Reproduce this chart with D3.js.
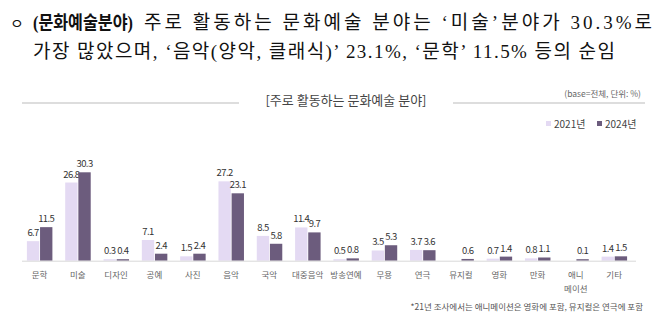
<!DOCTYPE html>
<html><head><meta charset="utf-8">
<script src="https://cdn.jsdelivr.net/npm/d3@7"></script>
<style>body{margin:0;background:#fff}svg{display:block}</style>
</head><body><svg id="c" width="670" height="322"></svg>
<script>
const categories = ["문학","미술","디자인","공예","사진","음악","국악","대중음악","방송연예","무용","연극","뮤지컬","영화","만화","애니메이션","기타"];
const series = ["2021년","2024년"];
const values2021 = [6.7,26.8,0.3,7.1,1.5,27.2,8.5,11.4,0.5,3.5,3.7,null,0.7,0.8,null,1.4];
const values2024 = [11.5,30.3,0.4,2.4,2.4,23.1,5.8,9.7,0.8,5.3,3.6,0.6,1.4,1.1,0.1,1.5];
const titleLine1Bold = "(문화예술분야)";
const titleLine1 = "주로 활동하는 문화예술 분야는 ‘미술’분야가 30.3%로";
const titleLine2 = "가장 많았으며, ‘음악(양악, 클래식)’ 23.1%, ‘문학’ 11.5% 등의 순임";
const chartTitle = "[주로 활동하는 문화예술 분야]";
const baseNote = "(base=전체, 단위: %)";
const footnote = "*21년 조사에서는 애니메이션은 영화에 포함, 뮤지컬은 연극에 포함";

const colors = ["#e4daf3","#6c5c7d"];
const svg = d3.select("#c");
const serif = "'Liberation Serif','Noto Sans CJK KR',serif";
const sans = "'Noto Sans CJK KR','Noto Sans',sans-serif";

// heading text
svg.append("text").attr("x",10).attr("y",29).attr("font-family",sans).attr("font-size",15).attr("fill","#111").text("ㅇ");
svg.append("text").attr("x",33).attr("y",29).attr("font-family",serif).attr("font-size",18.5).attr("font-weight","bold").attr("fill","#111")
  .attr("textLength",100).attr("lengthAdjust","spacingAndGlyphs").text(titleLine1Bold);
svg.append("text").attr("x",144).attr("y",29).attr("font-family",serif).attr("font-size",19).attr("fill","#111")
  .attr("textLength",508).attr("lengthAdjust","spacing").text(titleLine1);
svg.append("text").attr("x",33).attr("y",58).attr("font-family",serif).attr("font-size",19).attr("fill","#111")
  .attr("textLength",582).attr("lengthAdjust","spacing").text(titleLine2);

// chart header
svg.append("line").attr("x1",22).attr("x2",239).attr("y1",103).attr("y2",103).attr("stroke","#bbb").attr("stroke-width",1);
svg.append("line").attr("x1",453).attr("x2",645).attr("y1",103).attr("y2",103).attr("stroke","#bbb").attr("stroke-width",1);
svg.append("text").attr("x",346).attr("y",105).attr("text-anchor","middle").attr("font-family",sans).attr("font-size",13).attr("fill","#444").text(chartTitle);
svg.append("text").attr("x",641).attr("y",97).attr("text-anchor","end").attr("font-family",sans).attr("font-size",8.5).attr("fill","#666").text(baseNote);

// legend
const legX = [546, 597];
series.forEach((s,i)=>{
  svg.append("rect").attr("x",legX[i]).attr("y",121).attr("width",5).attr("height",5).attr("fill",colors[i]);
  svg.append("text").attr("x",legX[i]+8).attr("y",127.5).attr("font-family",sans).attr("font-size",10).attr("fill","#444").text(s);
});

// scales
const baseY = 260.7;
const x0 = d3.scaleBand().domain(categories).range([20.3, 633.3]).padding(0);
const x1 = d3.scaleBand().domain(series).range([6.6, 32.1]).paddingInner(0.06);
const y = d3.scaleLinear().domain([0, 30.3]).range([baseY, 172.3]);

const data = categories.map((c,i)=>({cat:c, vals:[values2021[i], values2024[i]]}));

const g = svg.append("g");
data.forEach(d=>{
  d.vals.forEach((v,j)=>{
    if(v==null) return;
    const xx = x0(d.cat) + x1(series[j]);
    const h = Math.max(baseY - y(v), 1.5);
    g.append("rect").attr("x",xx).attr("y",baseY-h).attr("width",x1.bandwidth()).attr("height",h).attr("fill",colors[j]);
    g.append("text").attr("x",xx + x1.bandwidth()/2).attr("y",baseY-h-5).attr("text-anchor","middle")
      .attr("font-family",sans).attr("font-size",9.5).attr("fill","#333").attr("letter-spacing",-0.6).text(v.toFixed(1));
  });
});

// baseline
svg.append("line").attr("x1",22).attr("x2",636).attr("y1",baseY+0.5).attr("y2",baseY+0.5).attr("stroke","#d8d8d8").attr("stroke-width",1);

// category labels
const xAxis = d3.axisBottom(x0).tickSize(0).tickPadding(0);
const ax = svg.append("g").attr("transform",`translate(0,${baseY})`).call(xAxis);
ax.select(".domain").remove();
ax.selectAll("text").attr("font-family",sans).attr("font-size",8.5).attr("fill","#666").attr("dy",null).attr("y",17)
  .each(function(d){
    if(d==="애니메이션"){
      const t=d3.select(this); t.text(null);
      t.append("tspan").attr("x",0).attr("y",17).text("애니");
      t.append("tspan").attr("x",0).attr("y",31).text("메이션");
    }
  });

// footnote
svg.append("text").attr("x",643).attr("y",310).attr("text-anchor","end").attr("font-family",sans).attr("font-size",8.5).attr("fill","#555").text(footnote);
</script></body></html>
